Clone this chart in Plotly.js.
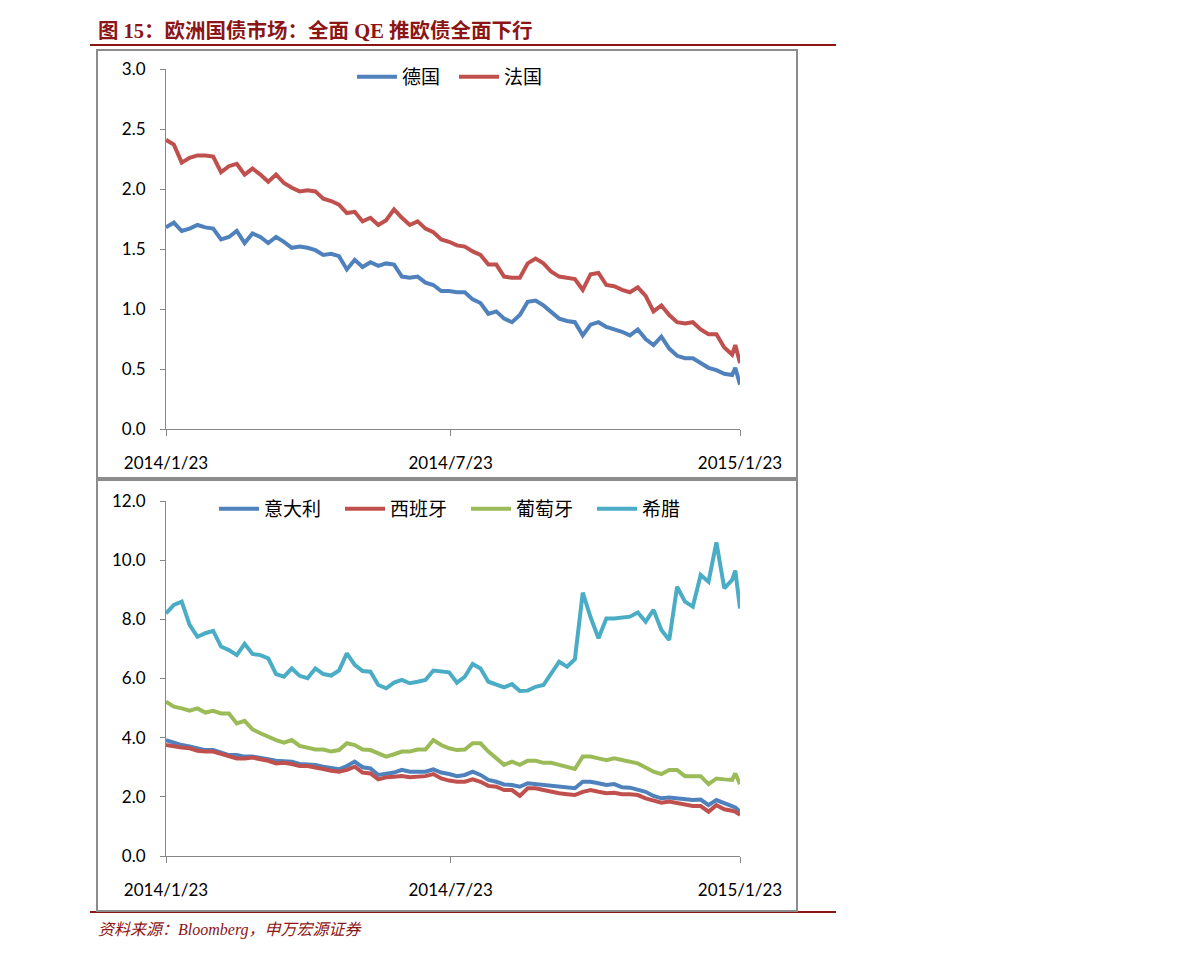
<!DOCTYPE html>
<html><head><meta charset="utf-8">
<script src="https://cdn.plot.ly/plotly-3.0.1.min.js"></script>
<style>html,body{margin:0;padding:0;background:#fff}#chart{width:1191px;height:959px}</style>
</head><body><div id="chart"></div>
<script>
const dates = ['2014-01-23','2014-01-28','2014-02-02','2014-02-07','2014-02-12','2014-02-17','2014-02-22','2014-02-27','2014-03-04','2014-03-09',
'2014-03-14','2014-03-19','2014-03-24','2014-03-29','2014-04-03','2014-04-08','2014-04-13','2014-04-18','2014-04-23','2014-04-28',
'2014-05-03','2014-05-08','2014-05-13','2014-05-18','2014-05-23','2014-05-28','2014-06-02','2014-06-07','2014-06-12','2014-06-17',
'2014-06-22','2014-06-27','2014-07-02','2014-07-07','2014-07-12','2014-07-17','2014-07-22','2014-07-27','2014-08-01','2014-08-06',
'2014-08-11','2014-08-16','2014-08-21','2014-08-26','2014-08-31','2014-09-05','2014-09-10','2014-09-15','2014-09-20','2014-09-25',
'2014-09-30','2014-10-05','2014-10-10','2014-10-15','2014-10-20','2014-10-25','2014-10-30','2014-11-04','2014-11-09','2014-11-14',
'2014-11-19','2014-11-24','2014-11-29','2014-12-04','2014-12-09','2014-12-14','2014-12-19','2014-12-24','2014-12-29','2015-01-03',
'2015-01-08','2015-01-13','2015-01-18','2015-01-20','2015-01-23'];

const germany = [1.68,1.72,1.65,1.67,1.70,1.68,1.67,1.58,1.60,1.65,
1.55,1.63,1.60,1.55,1.60,1.56,1.51,1.52,1.51,1.49,
1.45,1.46,1.44,1.33,1.41,1.35,1.39,1.36,1.38,1.37,
1.27,1.26,1.27,1.22,1.20,1.15,1.15,1.14,1.14,1.08,
1.05,0.96,0.98,0.92,0.89,0.95,1.06,1.07,1.03,0.98,
0.92,0.90,0.89,0.78,0.87,0.89,0.85,0.83,0.81,0.78,
0.83,0.75,0.70,0.77,0.67,0.61,0.59,0.59,0.55,0.51,
0.49,0.46,0.45,0.51,0.37];

const france = [2.41,2.37,2.22,2.26,2.28,2.28,2.27,2.14,2.19,2.21,
2.12,2.17,2.12,2.06,2.12,2.05,2.01,1.98,1.99,1.98,
1.92,1.90,1.87,1.80,1.81,1.73,1.76,1.70,1.74,1.83,
1.76,1.70,1.73,1.67,1.64,1.58,1.56,1.53,1.52,1.48,
1.45,1.37,1.37,1.27,1.26,1.26,1.38,1.42,1.38,1.31,
1.27,1.26,1.25,1.16,1.29,1.30,1.20,1.19,1.16,1.14,
1.18,1.11,0.98,1.03,0.95,0.89,0.88,0.89,0.83,0.79,
0.79,0.68,0.62,0.70,0.55];

const italy = [3.92,3.83,3.75,3.70,3.64,3.58,3.58,3.49,3.41,3.41,
3.36,3.36,3.30,3.27,3.22,3.19,3.19,3.11,3.11,3.08,
3.02,2.96,2.93,3.04,3.19,3.00,2.96,2.74,2.79,2.82,
2.91,2.85,2.85,2.85,2.93,2.82,2.77,2.70,2.74,2.85,
2.74,2.57,2.51,2.42,2.40,2.34,2.46,2.43,2.43,2.37,
2.34,2.32,2.29,2.51,2.51,2.46,2.40,2.43,2.32,2.31,
2.25,2.17,2.03,1.95,1.98,1.95,1.91,1.89,1.91,1.72,
1.89,1.78,1.67,1.64,1.50];

const spain = [3.75,3.70,3.67,3.64,3.56,3.53,3.53,3.45,3.36,3.30,
3.30,3.33,3.27,3.22,3.13,3.15,3.11,3.04,3.04,3.00,
2.94,2.88,2.85,2.91,3.02,2.82,2.79,2.59,2.66,2.68,
2.70,2.66,2.68,2.70,2.77,2.62,2.55,2.51,2.51,2.59,
2.51,2.37,2.34,2.23,2.23,2.03,2.29,2.29,2.23,2.17,
2.12,2.09,2.06,2.17,2.23,2.17,2.12,2.14,2.09,2.09,
2.06,1.95,1.87,1.80,1.84,1.78,1.72,1.69,1.69,1.50,
1.72,1.58,1.53,1.50,1.39];

const portugal = [5.22,5.05,4.99,4.91,4.99,4.85,4.91,4.82,4.82,4.48,
4.57,4.28,4.15,4.03,3.92,3.83,3.92,3.72,3.67,3.60,
3.60,3.53,3.58,3.81,3.75,3.60,3.58,3.47,3.36,3.44,
3.53,3.53,3.60,3.60,3.92,3.75,3.64,3.58,3.60,3.81,
3.81,3.53,3.30,3.08,3.19,3.08,3.22,3.22,3.15,3.15,
3.08,3.02,2.94,3.36,3.36,3.30,3.24,3.30,3.24,3.19,
3.13,2.99,2.85,2.77,2.91,2.91,2.70,2.70,2.70,2.43,
2.62,2.59,2.57,2.79,2.43];

const greece = [8.20,8.49,8.60,7.81,7.41,7.53,7.61,7.08,6.96,6.79,
7.17,6.83,6.79,6.68,6.15,6.06,6.34,6.09,6.01,6.34,
6.15,6.10,6.27,6.85,6.46,6.25,6.23,5.78,5.67,5.86,
5.95,5.84,5.89,5.95,6.27,6.23,6.21,5.86,6.06,6.49,
6.34,5.89,5.81,5.70,5.81,5.58,5.59,5.72,5.78,6.18,
6.57,6.40,6.65,8.90,8.07,7.36,8.03,8.03,8.07,8.09,
8.23,7.92,8.32,7.64,7.30,9.10,8.60,8.43,9.50,9.27,
10.60,9.05,9.33,9.65,8.37];

const xTickVals = ['2014-01-23','2014-07-23','2015-01-23'];
const xTickText = ['2014/1/23','2014/7/23','2015/1/23'];
const yTopTicks = [0,0.5,1.0,1.5,2.0,2.5,3.0];
const yBottomTicks = [0,2,4,6,8,10,12];

const titleText = '图 15：欧洲国债市场：全面 QE 推欧债全面下行';
const sourceText = '资料来源：Bloomberg，申万宏源证券';

const C = {blue:'#4F81BD', red:'#C0504D', green:'#9BBB59', teal:'#4BACC6'};
const W = 1191, H = 959;
const px = v => v / W, py = v => 1 - v / H;
const lw = 4;

const traces = [
  {x: dates, y: germany, name: '德国', type: 'scatter', mode: 'lines', line: {color: C.blue, width: lw}, xaxis: 'x', yaxis: 'y', legend: 'legend'},
  {x: dates, y: france, name: '法国', type: 'scatter', mode: 'lines', line: {color: C.red, width: lw}, xaxis: 'x', yaxis: 'y', legend: 'legend'},
  {x: dates, y: italy, name: '意大利', type: 'scatter', mode: 'lines', line: {color: C.blue, width: lw}, xaxis: 'x2', yaxis: 'y2', legend: 'legend2'},
  {x: dates, y: spain, name: '西班牙', type: 'scatter', mode: 'lines', line: {color: C.red, width: lw}, xaxis: 'x2', yaxis: 'y2', legend: 'legend2'},
  {x: dates, y: portugal, name: '葡萄牙', type: 'scatter', mode: 'lines', line: {color: C.green, width: lw}, xaxis: 'x2', yaxis: 'y2', legend: 'legend2'},
  {x: dates, y: greece, name: '希腊', type: 'scatter', mode: 'lines', line: {color: C.teal, width: lw}, xaxis: 'x2', yaxis: 'y2', legend: 'legend2'}
];

const axisCommon = {showline: true, linecolor: '#868686', linewidth: 1, showgrid: false, zeroline: false,
  ticks: 'outside', tickcolor: '#868686', tickwidth: 1, fixedrange: true,
  tickfont: {family: 'Lato, "Liberation Sans", sans-serif', size: 17, color: '#000', weight: 'normal'}};

const xCommon = Object.assign({}, axisCommon, {type: 'date', range: ['2014-01-23', '2015-01-23'],
  tickmode: 'array', tickvals: xTickVals, ticktext: xTickText, ticklen: 6, ticklabelstandoff: 13});

const legendCommon = {orientation: 'h', xanchor: 'left', yanchor: 'middle', bgcolor: 'rgba(0,0,0,0)',
  font: {family: '"Noto Sans CJK SC", sans-serif', size: 19, color: '#000'}, itemwidth: 40,
  entrywidthmode: 'pixels', traceorder: 'normal'};

const layout = {
  width: W, height: H,
  margin: {l: 0, r: 0, t: 0, b: 0},
  paper_bgcolor: '#fff', plot_bgcolor: 'rgba(0,0,0,0)',
  showlegend: true,
  xaxis: Object.assign({}, xCommon, {domain: [px(166), px(740)], anchor: 'y'}),
  yaxis: Object.assign({}, axisCommon, {domain: [py(429), py(69)], anchor: 'x', range: [0, 3],
    tickmode: 'array', tickvals: yTopTicks, tickformat: '.1f', ticklen: 5, ticklabelstandoff: 11}),
  xaxis2: Object.assign({}, xCommon, {domain: [px(166), px(740)], anchor: 'y2'}),
  yaxis2: Object.assign({}, axisCommon, {domain: [py(856), py(501)], anchor: 'x2', range: [0, 12],
    tickmode: 'array', tickvals: yBottomTicks, tickformat: '.1f', ticklen: 5, ticklabelstandoff: 11}),
  legend: Object.assign({}, legendCommon, {x: px(352), y: py(77), entrywidth: 47}),
  legend2: Object.assign({}, legendCommon, {x: px(214), y: py(509), entrywidth: 71}),
  shapes: [
    {type: 'line', xref: 'paper', yref: 'paper', x0: px(90), x1: px(836), y0: py(45), y1: py(45), line: {color: '#8C1515', width: 2}},
    {type: 'line', xref: 'paper', yref: 'paper', x0: px(90), x1: px(836), y0: py(912), y1: py(912), line: {color: '#8C1515', width: 2}},
    {type: 'rect', xref: 'paper', yref: 'paper', x0: px(97), x1: px(797), y0: py(478), y1: py(50), line: {color: '#8C8C8C', width: 2}},
    {type: 'rect', xref: 'paper', yref: 'paper', x0: px(97), x1: px(797), y0: py(911), y1: py(480), line: {color: '#8C8C8C', width: 2}}
  ],
  annotations: [
    {text: '<b>' + titleText + '</b>', xref: 'paper', yref: 'paper', x: px(96), y: py(31), xanchor: 'left', yanchor: 'middle',
      showarrow: false, font: {family: '"Liberation Serif", "Noto Sans CJK SC", serif', size: 20.5, color: '#8C1515'}},
    {text: '<i>' + sourceText + '</i>', xref: 'paper', yref: 'paper', x: px(96), y: py(930), xanchor: 'left', yanchor: 'middle',
      showarrow: false, font: {family: '"Liberation Serif", "Noto Sans CJK SC", serif', size: 16, color: '#8C1515'}}
  ]
};

Plotly.newPlot('chart', traces, layout, {staticPlot: true, displayModeBar: false});
</script></body></html>
